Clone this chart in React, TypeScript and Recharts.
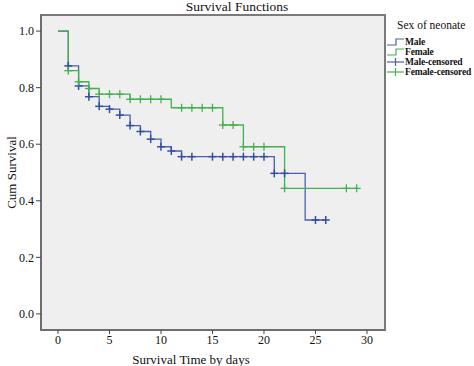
import React from "react";
import {
  ComposedChart,
  Line,
  Scatter,
  XAxis,
  YAxis,
  CartesianGrid,
  ReferenceArea,
} from "recharts";

// Kaplan-Meier steps (time in days, cum survival)
const maleTimes = [0, 1, 2, 3, 4, 5, 6, 7, 8, 9, 10, 11, 12, 21, 24, 26];
const maleSurv = [1, 0.877, 0.806, 0.768, 0.734, 0.724, 0.703, 0.666, 0.645, 0.618, 0.591, 0.576, 0.556, 0.497, 0.332, 0.332];

const femaleTimes = [0, 1, 2, 3, 4, 7, 11, 16, 18, 22, 29];
const femaleSurv = [1, 0.86, 0.821, 0.797, 0.777, 0.759, 0.729, 0.668, 0.591, 0.444, 0.444];

// censored observations
const maleCensored = [1, 2, 3, 4, 5, 6, 7, 8, 9, 10, 11, 12, 13, 15, 16, 17, 18, 19, 20, 21, 22, 25, 26];
const femaleCensored = [1, 2, 3, 4, 5, 6, 7, 8, 9, 10, 12, 13, 14, 15, 16, 17, 18, 19, 20, 22, 28, 29];

const xTicks = [0, 5, 10, 15, 20, 25, 30];
const yTicks = [0, 0.2, 0.4, 0.6, 0.8, 1.0];

const MALE = "#4a5fae";
const MALE_DARK = "#344f9e";
const FEMALE = "#45b04f";
const FONT = "'Liberation Serif', 'Times New Roman', serif";

// survival value at time t for a step curve
function survAt(times: number[], surv: number[], t: number) {
  let v = surv[0];
  for (let i = 0; i < times.length; i++) {
    if (times[i] <= t) v = surv[i];
  }
  return v;
}

const maleData = maleTimes.map((x, i) => ({ x, y: maleSurv[i] }));
const femaleData = femaleTimes.map((x, i) => ({ x, y: femaleSurv[i] }));
const maleCens = maleCensored.map((x) => ({ x, y: survAt(maleTimes, maleSurv, x) }));
const femaleCens = femaleCensored.map((x) => ({ x, y: survAt(femaleTimes, femaleSurv, x) }));

const plus = (color: string, w: number) => (props: any) => {
  const { cx, cy } = props;
  return (
    <g>
      <line x1={cx - 4} x2={cx + 4} y1={cy} y2={cy} stroke={color} strokeWidth={w} />
      <line x1={cx} x2={cx} y1={cy - 4} y2={cy + 4} stroke={color} strokeWidth={w} />
    </g>
  );
};

function LegendIcon({ kind, color }: { kind: "step" | "plus"; color: string }) {
  return (
    <svg width={17} height={10} style={{ display: "block", flex: "none" }}>
      {kind === "step" ? (
        <polyline points="0,8 9,8 9,2 17,2" fill="none" stroke={color} strokeWidth={1.2} />
      ) : (
        <g stroke={color} strokeWidth={1.2}>
          <line x1={0} x2={17} y1={5} y2={5} />
          <line x1={8.5} x2={8.5} y1={1} y2={9} />
        </g>
      )}
    </svg>
  );
}

const legendItems = [
  { label: "Male", kind: "step" as const, color: MALE },
  { label: "Female", kind: "step" as const, color: FEMALE },
  { label: "Male-censored", kind: "plus" as const, color: MALE },
  { label: "Female-censored", kind: "plus" as const, color: FEMALE },
];

export default function App() {
  return (
    <div
      style={{
        position: "absolute",
        left: 0,
        top: 0,
        width: 474,
        height: 366,
        background: "#ffffff",
        fontFamily: FONT,
      }}
    >
      <div
        style={{
          position: "absolute",
          top: -1,
          left: 0,
          width: 474,
          textAlign: "center",
          fontSize: 13.5,
          color: "#111",
        }}
      >
        Survival Functions
      </div>

      <div style={{ position: "absolute", left: 387, top: 19, width: 87, color: "#111", whiteSpace: "nowrap" }}>
        <div style={{ fontSize: 11.5, lineHeight: "13px", marginLeft: 10, marginBottom: 5 }}>Sex of neonate</div>
        {legendItems.map((it) => (
          <div
            key={it.label}
            style={{
              display: "flex",
              alignItems: "center",
              height: 10,
              fontSize: 9.5,
              fontWeight: "bold",
              letterSpacing: -0.15,
            }}
          >
            <LegendIcon kind={it.kind} color={it.color} />
            <span style={{ marginLeft: 1 }}>{it.label}</span>
          </div>
        ))}
      </div>

      <ComposedChart
        width={474}
        height={366}
        margin={{ top: 15, right: 89, bottom: 0, left: 0 }}
        style={{ position: "absolute", left: 0, top: 0 }}
      >
        <CartesianGrid fill="#efefef" horizontal={false} vertical={false} />
        <XAxis
          type="number"
          dataKey="x"
          domain={[-1.65, 31.75]}
          ticks={xTicks}
          allowDataOverflow
          height={36}
          tickSize={4}
          tickMargin={1}
          axisLine={{ stroke: "#6e6e6e", strokeWidth: 2 }}
          tickLine={{ stroke: "#444" }}
          tick={{ fill: "#111", fontSize: 12, fontFamily: FONT }}
          label={{
            value: "Survival Time by days",
            position: "insideBottom",
            offset: 2,
            fill: "#111",
            fontSize: 13,
            fontFamily: FONT,
            dx: -22,
          }}
        />
        <YAxis
          type="number"
          domain={[-0.057, 1.057]}
          ticks={yTicks}
          allowDataOverflow
          width={41}
          tickSize={5}
          tickMargin={2}
          tickFormatter={(v: number) => v.toFixed(1)}
          axisLine={{ stroke: "#6e6e6e", strokeWidth: 2 }}
          tickLine={{ stroke: "#444" }}
          tick={{ fill: "#111", fontSize: 12, fontFamily: FONT }}
          label={{
            value: "Cum Survival",
            angle: -90,
            position: "insideLeft",
            offset: 11,
            fill: "#111",
            fontSize: 13,
            fontFamily: FONT,
            style: { textAnchor: "middle" },
          }}
        />
        <ReferenceArea
          x1={-1.65}
          x2={31.75}
          y1={-0.057}
          y2={1.057}
          fill="none"
          stroke="#7a7a7a"
          strokeWidth={2}
          ifOverflow="visible"
        />
        <Line
          data={maleData}
          dataKey="y"
          type="stepAfter"
          stroke={MALE}
          strokeWidth={1.3}
          dot={false}
          isAnimationActive={false}
        />
        <Line
          data={femaleData}
          dataKey="y"
          type="stepAfter"
          stroke={FEMALE}
          strokeWidth={1.3}
          dot={false}
          isAnimationActive={false}
        />
        <Scatter data={maleCens} dataKey="y" shape={plus(MALE_DARK, 1.5)} isAnimationActive={false} />
        <Scatter data={femaleCens} dataKey="y" shape={plus(FEMALE, 1.3)} isAnimationActive={false} />
      </ComposedChart>
    </div>
  );
}
